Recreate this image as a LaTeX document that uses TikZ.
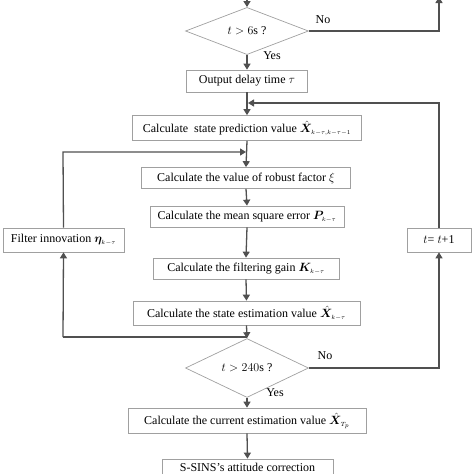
\documentclass[tikz,border=0pt]{standalone}
\usepackage{amsmath}
\usepackage{bm}
\usepackage{fontspec}
\setmainfont{Liberation Serif}
\usetikzlibrary{arrows.meta,shapes.geometric}
\definecolor{linegray}{HTML}{505050}
\definecolor{boxgray}{HTML}{A0A0A0}
\newcommand{\sk}[1]{_{\scriptscriptstyle #1}}

\begin{document}
\begin{tikzpicture}[x = 1pt, y = -1pt,
        font = \fontsize{12}{14}\selectfont,
        box/.style = {draw = boxgray, line width = 0.7pt, inner sep = 0pt},
        decide/.style = {diamond, draw = boxgray, line width = 0.7pt, inner sep = 0pt,
            minimum width = 123pt, minimum height = 35pt},
        line/.style = {draw = linegray, line width = 1.3pt},
        arr/.style = {line, -{Triangle[width = 7pt, length = 6pt]}}]
        \useasboundingbox (0,0) rectangle (474,474);
        % 主流程
        \node[decide](d1)at(247,31){$t > 6$s ?};
        \node[box, minimum width = 121pt, minimum height = 22pt](delay)at(247,81){Output delay time $\tau$};
        \node[box, minimum width = 229pt, minimum height = 25pt](pred)at(247,128){Calculate\ \ state prediction value $\hat{\bm{X}}\sk{k-\tau,k-\tau-1}$};
        \node[box, minimum width = 209pt, minimum height = 21pt](robust)at(246,178){Calculate the value of robust factor $\xi$};
        \node[box, minimum width = 194pt, minimum height = 21pt](mse)at(247,216.5){Calculate the mean square error $\bm{P}\sk{k-\tau}$};
        \node[box, minimum width = 186pt, minimum height = 21pt](gain)at(246,268.5){Calculate the filtering gain $\bm{K}\sk{k-\tau}$};
        \node[box, minimum width = 227pt, minimum height = 24pt](est)at(246.5,313){Calculate the state estimation value $\hat{\bm{X}}\sk{k-\tau}$};
        \node[decide](d2)at(247,368){$t > 240$s ?};
        \node[box, minimum width = 238pt, minimum height = 25pt](cur)at(247,420.5){Calculate the current estimation value $\hat{\bm{X}}\sk{T_p}$};
        \node[box, minimum width = 171pt, minimum height = 16pt](sins)at(247.5,467){S-SINS's attitude correction};
        % 两侧
        \node[box, minimum width = 121pt, minimum height = 24pt](filt)at(63.5,240){Filter innovation $\bm{\eta}\sk{k-\tau}$};
        \node[box, minimum width = 64pt, minimum height = 24pt](inc)at(439,240){$t$= $t$+1};
        \coordinate(top)at(247,-5);
        \coordinate(m1)at(248,103);
        \coordinate(m2)at(246,152);
        \coordinate(m3)at(247,337);
        \coordinate(r1)at(439,31);
        \coordinate(rtop)at(439,-3);
        \coordinate(r2)at(439,103);
        \coordinate(r3)at(439,368);
        \coordinate(l2)at(63,152);
        \coordinate(l3)at(63,337);
        \draw[arr](top)to(d1.north);
        \draw[arr](d1.south)to(delay.north);
        \draw[arr](delay.south)to(pred.north);
        \draw[arr](pred.south)to(robust.north);
        \draw[arr](robust.south)to(mse.north);
        \draw[arr](mse.south)to(gain.north);
        \draw[arr](gain.south)to(est.north);
        \draw[arr](est.south)to(d2.north);
        \draw[arr](d2.south)to(cur.north);
        \draw[arr](cur.south)to(sins.north);
        % 反馈
        \draw[arr](d1.east)--(r1)--(rtop);
        \draw[arr](d2.east)--(r3)--(inc.south);
        \draw[arr](inc.north)--(r2)--(m1);
        \draw[line](m3)--(l3);
        \draw[arr](l3)--(filt.south);
        \draw[arr](filt.north)--(l2)--(m2);
        \node(no1)at(323,20){No};
        \node(yes1)at(272,56){Yes};
        \node(no2)at(325,356){No};
        \node(yes2)at(275,393){Yes};
    \end{tikzpicture}
\end{document}
